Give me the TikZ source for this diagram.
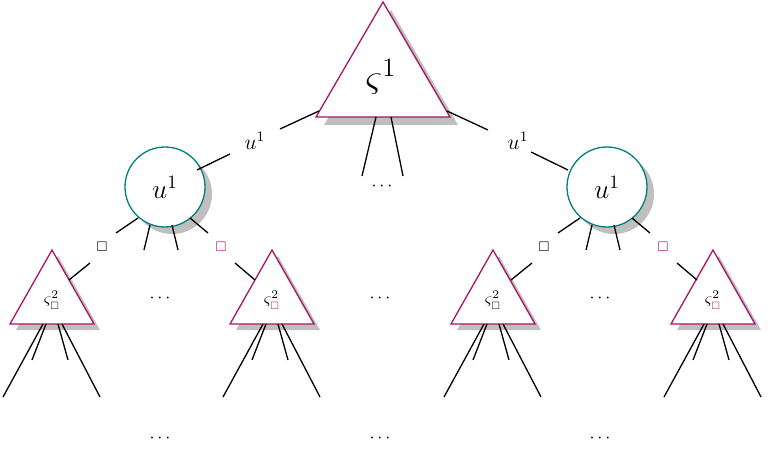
\documentclass[tikz,border=0pt]{standalone}
\usepackage{amssymb}
\begin{document}
\begin{tikzpicture}[x=1pt,y=-1pt,
  tri/.style={draw=magentaX,line width=1.3pt,fill=white},
  shad/.style={fill=black!25},
  circ/.style={circle,draw=tealX,line width=1.3pt,fill=white,minimum size=80pt,inner sep=0pt},
  ln/.style={line width=1.3pt},
  lbl/.style={scale=1.8}]
\definecolor{magentaX}{RGB}{170,20,100}
\definecolor{tealX}{RGB}{0,128,128}
\useasboundingbox (0,0) rectangle (770,457);
% top triangle
\fill[shad] (391,10) -- (458,125) -- (324,125) -- cycle;
\draw[tri] (383,2) -- (450,117) -- (316,117) -- cycle;
\node[scale=2.2] at (381,77) {\LARGE $\varsigma^1$};
\draw[ln] (376,117) -- (362,176) (391,117) -- (403,176);
\node[lbl] (d0) at (382,186) {$\cdots$};
% circles
\foreach \cx/\nm in {165/L,607/R}{
  \node[circ,draw=none,fill=black!25] at (\cx+7,194) {};
  \node[circ] (c\nm) at (\cx,187) {};
  \node[scale=1.9] at (\cx,187) {\Large $u^1$};
}
\node[lbl] (uL) at (255,141) {\large $u^1$};
\node[lbl] (uR) at (518,141) {\large $u^1$};
\draw[ln] (319,111) -- (280,129) (230,154) -- (197,170);
\draw[ln] (447,111) -- (488,130) (531,152) -- (568,170);
% small triangles
\foreach \tx/\cl in {52/black,272/magentaX,493/black,713/magentaX}{
  \fill[shad] (\tx+6,256) -- (\tx+48,330) -- (\tx-36,330) -- cycle;
  \draw[tri] (\tx,250) -- (\tx+42,324) -- (\tx-42,324) -- cycle;
  \node[scale=1.7] at (\tx,300) {$\varsigma^2_{\color{\cl}\scriptscriptstyle\square}$};
  \draw[ln] (\tx-9,324) -- (\tx-49,397) (\tx-6,324) -- (\tx-20,360)
            (\tx+6,324) -- (\tx+16,360) (\tx+10,324) -- (\tx+48,397);
}
% circle spokes and labels
\foreach \cx in {165,607}{
  \draw[ln] (\cx-27,218) -- (\cx-49,233) (\cx-15,225) -- (\cx-21,250)
            (\cx+7,225) -- (\cx+13,250) (\cx+25,218) -- (\cx+43,233);
  \node[lbl] at (\cx-63,247) {$\scriptstyle\square$};
  \node[lbl,text=magentaX] at (\cx+56,247) {$\scriptstyle\square$};
  \draw[ln] (\cx-75,263) -- (\cx-96,280) (\cx+70,263) -- (\cx+90,280);
}
\foreach \x in {160,380,600}{
  \node[lbl] at (\x,298) {$\cdots$};
  \node[lbl] at (\x,438) {$\cdots$};
}
\end{tikzpicture}
\end{document}
